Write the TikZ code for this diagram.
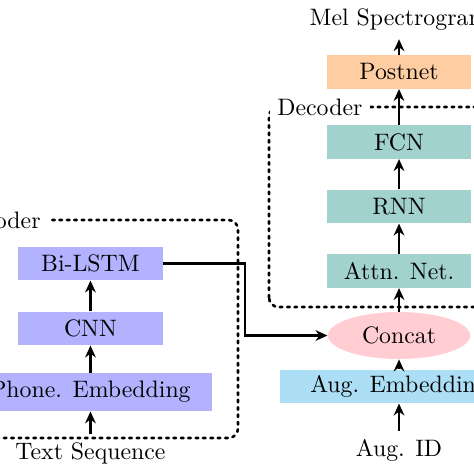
\documentclass[tikz,border=0pt]{standalone}
\usetikzlibrary{shapes.geometric,arrows.meta}
\definecolor{encblue}{RGB}{178,178,255}
\definecolor{decteal}{RGB}{162,210,206}
\definecolor{postorange}{RGB}{255,205,162}
\definecolor{concatpink}{RGB}{255,205,210}
\definecolor{augblue}{RGB}{172,222,246}

\begin{document}
\begin{tikzpicture}[
    block/.style={rectangle, minimum width=2.14cm, minimum height=0.49cm, inner sep=2pt},
    encbox/.style={block, fill=encblue},
    decbox/.style={block, fill=decteal},
    arr/.style={line width=1pt, -{Stealth[length=5pt,width=4.5pt]}},
    region/.style={line width=1.1pt, dotted, line cap=round, rounded corners=4pt}]
    \useasboundingbox (0,0) rectangle (7,7);
    % Khung Encoder va Decoder
    \draw[region] (-0.79,0.532) rectangle (3.515,3.751);
    \draw[region] (3.973,2.466) rectangle (7.6,5.420);
    \node[fill=white, anchor=west] (enclabel) at (-0.79,3.751) {Encoder};
    \node[fill=white, anchor=west] (declabel) at (3.973,5.420) {Decoder};
    % Encoder
    \node (text) at (1.336,0.31) {Text Sequence};
    \node[encbox, minimum width=3.59cm, minimum height=0.56cm] (phone) at (1.336,1.211) {Phone. Embedding};
    \node[encbox] (cnn) at (1.336,2.149) {CNN};
    \node[encbox] (bilstm) at (1.336,3.109) {Bi-LSTM};
    % Decoder
    \node (augid) at (5.893,0.354) {Aug. ID};
    \node[block, fill=augblue, minimum width=3.515cm] (augemb) at (5.893,1.292) {Aug. Embedding};
    \node[ellipse, fill=concatpink, minimum width=2.10cm, minimum height=0.665cm] (concat) at (5.893,2.045) {Concat};
    \node[decbox] (attn) at (5.893,2.998) {Attn. Net.};
    \node[decbox] (rnn) at (5.893,3.950) {RNN};
    \node[decbox] (fcn) at (5.893,4.903) {FCN};
    \node[block, fill=postorange] (postnet) at (5.893,5.937) {Postnet};
    \node (mel) at (5.893,6.705) {Mel Spectrogram};
    % Mui ten
    \draw[arr] (text) -- (phone);
    \draw[arr] (phone) -- (cnn);
    \draw[arr] (cnn) -- (bilstm);
    \draw[arr] (augid) -- (augemb);
    \draw[arr] (augemb) -- (concat);
    \draw[arr] (concat) -- (attn);
    \draw[arr] (attn) -- (rnn);
    \draw[arr] (rnn) -- (fcn);
    \draw[arr] (fcn) -- (postnet);
    \draw[arr] (postnet) -- (mel);
    \coordinate (bend) at (3.62,3.109);
    \draw[arr] (bilstm.east) -- (bend) |- (concat.west);
\end{tikzpicture}
\end{document}
